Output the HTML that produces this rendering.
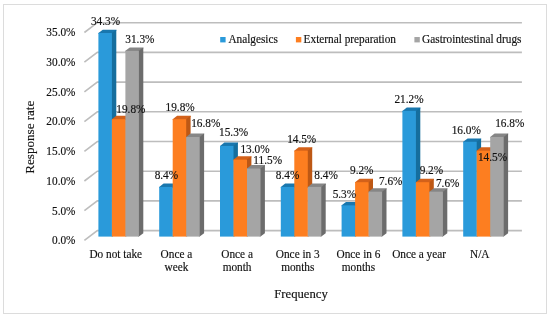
<!DOCTYPE html><html><head><meta charset="utf-8"><title>Response rate by frequency</title><style>html,body{margin:0;padding:0;background:#fff;width:550px;height:318px;overflow:hidden}svg{display:block;will-change:transform;filter:blur(0.3px)}text{font-family:"Liberation Serif",serif;fill:#111;stroke:#111;stroke-width:0.15px}</style></head><body>
<svg width="550" height="318" viewBox="0 0 550 318">
<rect x="0" y="0" width="550" height="318" fill="#fff"/>
<rect x="3.5" y="4.5" width="543" height="309" fill="none" stroke="#DCDCDC" stroke-width="1"/>
<polyline points="84.4,240.40 97.3,230.60 521.9,230.60" fill="none" stroke="#BDBDBD" stroke-width="1.6"/>
<polyline points="84.4,210.70 97.3,200.90 521.9,200.90" fill="none" stroke="#BDBDBD" stroke-width="1.6"/>
<polyline points="84.4,181.00 97.3,171.20 521.9,171.20" fill="none" stroke="#BDBDBD" stroke-width="1.6"/>
<polyline points="84.4,151.30 97.3,141.50 521.9,141.50" fill="none" stroke="#BDBDBD" stroke-width="1.6"/>
<polyline points="84.4,121.60 97.3,111.80 521.9,111.80" fill="none" stroke="#BDBDBD" stroke-width="1.6"/>
<polyline points="84.4,91.90 97.3,82.10 521.9,82.10" fill="none" stroke="#BDBDBD" stroke-width="1.6"/>
<polyline points="84.4,62.20 97.3,52.40 521.9,52.40" fill="none" stroke="#BDBDBD" stroke-width="1.6"/>
<polyline points="84.4,32.50 97.3,22.70 521.9,22.70" fill="none" stroke="#BDBDBD" stroke-width="1.6"/>
<text transform="translate(75.50,244.20) scale(1,1.06)" font-size="11.3" text-anchor="end">0.0%</text>
<text transform="translate(75.50,214.50) scale(1,1.06)" font-size="11.3" text-anchor="end">5.0%</text>
<text transform="translate(75.50,184.80) scale(1,1.06)" font-size="11.3" text-anchor="end">10.0%</text>
<text transform="translate(75.50,155.10) scale(1,1.06)" font-size="11.3" text-anchor="end">15.0%</text>
<text transform="translate(75.50,125.40) scale(1,1.06)" font-size="11.3" text-anchor="end">20.0%</text>
<text transform="translate(75.50,95.70) scale(1,1.06)" font-size="11.3" text-anchor="end">25.0%</text>
<text transform="translate(75.50,66.00) scale(1,1.06)" font-size="11.3" text-anchor="end">30.0%</text>
<text transform="translate(75.50,36.30) scale(1,1.06)" font-size="11.3" text-anchor="end">35.0%</text>
<polygon points="98.40,33.84 98.40,33.04 102.80,29.64 116.30,29.64 116.30,30.64 112.70,33.84" fill="#1977AE"/>
<polygon points="111.10,33.04 111.90,33.04 116.30,29.64 116.30,120.20 111.10,120.20" fill="#156E9E"/>
<rect x="98.40" y="33.04" width="13.5" height="203.56" fill="#2A9ADA"/>
<rect x="111.60" y="119.80" width="1.3" height="116.80" fill="#2A9ADA"/>
<polygon points="111.90,120.00 111.90,119.20 116.30,115.80 129.80,115.80 129.80,116.80 126.20,120.00" fill="#D3611A"/>
<polygon points="124.60,119.20 125.40,119.20 129.80,115.80 129.80,120.20 124.60,120.20" fill="#BD5815"/>
<rect x="111.90" y="119.20" width="13.5" height="117.40" fill="#FD7E20"/>
<rect x="125.10" y="119.80" width="1.3" height="116.80" fill="#FD7E20"/>
<polygon points="125.40,51.67 125.40,50.87 129.80,47.47 143.30,47.47 143.30,48.47 139.70,51.67" fill="#868686"/>
<polygon points="138.10,50.87 138.90,50.87 143.30,47.47 143.30,233.20 138.90,236.60 138.10,236.60" fill="#6C6C6C"/>
<rect x="125.40" y="50.87" width="13.5" height="185.73" fill="#A5A5A5"/>
<polygon points="159.20,187.74 159.20,186.94 163.60,183.54 177.10,183.54 177.10,184.54 173.50,187.74" fill="#1977AE"/>
<polygon points="171.90,186.94 172.70,186.94 177.10,183.54 177.10,187.94 171.90,187.94" fill="#156E9E"/>
<rect x="159.20" y="186.94" width="13.5" height="49.66" fill="#2A9ADA"/>
<rect x="172.40" y="187.54" width="1.3" height="49.06" fill="#2A9ADA"/>
<polygon points="172.70,120.00 172.70,119.20 177.10,115.80 190.60,115.80 190.60,116.80 187.00,120.00" fill="#D3611A"/>
<polygon points="185.40,119.20 186.20,119.20 190.60,115.80 190.60,138.02 185.40,138.02" fill="#BD5815"/>
<rect x="172.70" y="119.20" width="13.5" height="117.40" fill="#FD7E20"/>
<rect x="185.90" y="137.62" width="1.3" height="98.98" fill="#FD7E20"/>
<polygon points="186.20,137.82 186.20,137.02 190.60,133.62 204.10,133.62 204.10,134.62 200.50,137.82" fill="#868686"/>
<polygon points="198.90,137.02 199.70,137.02 204.10,133.62 204.10,233.20 199.70,236.60 198.90,236.60" fill="#6C6C6C"/>
<rect x="186.20" y="137.02" width="13.5" height="99.58" fill="#A5A5A5"/>
<polygon points="220.00,146.74 220.00,145.94 224.40,142.54 237.90,142.54 237.90,143.54 234.30,146.74" fill="#1977AE"/>
<polygon points="232.70,145.94 233.50,145.94 237.90,142.54 237.90,160.60 232.70,160.60" fill="#156E9E"/>
<rect x="220.00" y="145.94" width="13.5" height="90.66" fill="#2A9ADA"/>
<rect x="233.20" y="160.20" width="1.3" height="76.40" fill="#2A9ADA"/>
<polygon points="233.50,160.40 233.50,159.60 237.90,156.20 251.40,156.20 251.40,157.20 247.80,160.40" fill="#D3611A"/>
<polygon points="246.20,159.60 247.00,159.60 251.40,156.20 251.40,169.52 246.20,169.52" fill="#BD5815"/>
<rect x="233.50" y="159.60" width="13.5" height="77.00" fill="#FD7E20"/>
<rect x="246.70" y="169.12" width="1.3" height="67.48" fill="#FD7E20"/>
<polygon points="247.00,169.32 247.00,168.52 251.40,165.12 264.90,165.12 264.90,166.12 261.30,169.32" fill="#868686"/>
<polygon points="259.70,168.52 260.50,168.52 264.90,165.12 264.90,233.20 260.50,236.60 259.70,236.60" fill="#6C6C6C"/>
<rect x="247.00" y="168.52" width="13.5" height="68.08" fill="#A5A5A5"/>
<polygon points="280.80,187.74 280.80,186.94 285.20,183.54 298.70,183.54 298.70,184.54 295.10,187.74" fill="#1977AE"/>
<polygon points="293.50,186.94 294.30,186.94 298.70,183.54 298.70,187.94 293.50,187.94" fill="#156E9E"/>
<rect x="280.80" y="186.94" width="13.5" height="49.66" fill="#2A9ADA"/>
<rect x="294.00" y="187.54" width="1.3" height="49.06" fill="#2A9ADA"/>
<polygon points="294.30,151.49 294.30,150.69 298.70,147.29 312.20,147.29 312.20,148.29 308.60,151.49" fill="#D3611A"/>
<polygon points="307.00,150.69 307.80,150.69 312.20,147.29 312.20,187.94 307.00,187.94" fill="#BD5815"/>
<rect x="294.30" y="150.69" width="13.5" height="85.91" fill="#FD7E20"/>
<rect x="307.50" y="187.54" width="1.3" height="49.06" fill="#FD7E20"/>
<polygon points="307.80,187.74 307.80,186.94 312.20,183.54 325.70,183.54 325.70,184.54 322.10,187.74" fill="#868686"/>
<polygon points="320.50,186.94 321.30,186.94 325.70,183.54 325.70,233.20 321.30,236.60 320.50,236.60" fill="#6C6C6C"/>
<rect x="307.80" y="186.94" width="13.5" height="49.66" fill="#A5A5A5"/>
<polygon points="341.60,206.16 341.60,205.36 346.00,201.96 359.50,201.96 359.50,202.96 355.90,206.16" fill="#1977AE"/>
<polygon points="354.30,205.36 355.10,205.36 359.50,201.96 359.50,206.36 354.30,206.36" fill="#156E9E"/>
<rect x="341.60" y="205.36" width="13.5" height="31.24" fill="#2A9ADA"/>
<rect x="354.80" y="205.96" width="1.3" height="30.64" fill="#2A9ADA"/>
<polygon points="355.10,182.98 355.10,182.18 359.50,178.78 373.00,178.78 373.00,179.78 369.40,182.98" fill="#D3611A"/>
<polygon points="367.80,182.18 368.60,182.18 373.00,178.78 373.00,192.69 367.80,192.69" fill="#BD5815"/>
<rect x="355.10" y="182.18" width="13.5" height="54.42" fill="#FD7E20"/>
<rect x="368.30" y="192.29" width="1.3" height="44.31" fill="#FD7E20"/>
<polygon points="368.60,192.49 368.60,191.69 373.00,188.29 386.50,188.29 386.50,189.29 382.90,192.49" fill="#868686"/>
<polygon points="381.30,191.69 382.10,191.69 386.50,188.29 386.50,233.20 382.10,236.60 381.30,236.60" fill="#6C6C6C"/>
<rect x="368.60" y="191.69" width="13.5" height="44.91" fill="#A5A5A5"/>
<polygon points="402.40,111.68 402.40,110.88 406.80,107.48 420.30,107.48 420.30,108.48 416.70,111.68" fill="#1977AE"/>
<polygon points="415.10,110.88 415.90,110.88 420.30,107.48 420.30,183.18 415.10,183.18" fill="#156E9E"/>
<rect x="402.40" y="110.88" width="13.5" height="125.72" fill="#2A9ADA"/>
<rect x="415.60" y="182.78" width="1.3" height="53.82" fill="#2A9ADA"/>
<polygon points="415.90,182.98 415.90,182.18 420.30,178.78 433.80,178.78 433.80,179.78 430.20,182.98" fill="#D3611A"/>
<polygon points="428.60,182.18 429.40,182.18 433.80,178.78 433.80,192.69 428.60,192.69" fill="#BD5815"/>
<rect x="415.90" y="182.18" width="13.5" height="54.42" fill="#FD7E20"/>
<rect x="429.10" y="192.29" width="1.3" height="44.31" fill="#FD7E20"/>
<polygon points="429.40,192.49 429.40,191.69 433.80,188.29 447.30,188.29 447.30,189.29 443.70,192.49" fill="#868686"/>
<polygon points="442.10,191.69 442.90,191.69 447.30,188.29 447.30,233.20 442.90,236.60 442.10,236.60" fill="#6C6C6C"/>
<rect x="429.40" y="191.69" width="13.5" height="44.91" fill="#A5A5A5"/>
<polygon points="463.20,142.58 463.20,141.78 467.60,138.38 481.10,138.38 481.10,139.38 477.50,142.58" fill="#1977AE"/>
<polygon points="475.90,141.78 476.70,141.78 481.10,138.38 481.10,151.69 475.90,151.69" fill="#156E9E"/>
<rect x="463.20" y="141.78" width="13.5" height="94.82" fill="#2A9ADA"/>
<rect x="476.40" y="151.29" width="1.3" height="85.31" fill="#2A9ADA"/>
<polygon points="476.70,151.49 476.70,150.69 481.10,147.29 494.60,147.29 494.60,148.29 491.00,151.49" fill="#D3611A"/>
<polygon points="489.40,150.69 490.20,150.69 494.60,147.29 494.60,151.69 489.40,151.69" fill="#BD5815"/>
<rect x="476.70" y="150.69" width="13.5" height="85.91" fill="#FD7E20"/>
<rect x="489.90" y="151.29" width="1.3" height="85.31" fill="#FD7E20"/>
<polygon points="490.20,137.82 490.20,137.02 494.60,133.62 508.10,133.62 508.10,134.62 504.50,137.82" fill="#868686"/>
<polygon points="502.90,137.02 503.70,137.02 508.10,133.62 508.10,233.20 503.70,236.60 502.90,236.60" fill="#6C6C6C"/>
<rect x="490.20" y="137.02" width="13.5" height="99.58" fill="#A5A5A5"/>
<text transform="translate(105.50,25.00) scale(1,1.06)" font-size="11.3" text-anchor="middle">34.3%</text>
<text transform="translate(130.90,112.60) scale(1,1.06)" font-size="11.3" text-anchor="middle">19.8%</text>
<text transform="translate(139.90,42.70) scale(1,1.06)" font-size="11.3" text-anchor="middle">31.3%</text>
<text transform="translate(166.40,178.70) scale(1,1.06)" font-size="11.3" text-anchor="middle">8.4%</text>
<text transform="translate(180.10,111.10) scale(1,1.06)" font-size="11.3" text-anchor="middle">19.8%</text>
<text transform="translate(205.80,127.10) scale(1,1.06)" font-size="11.3" text-anchor="middle">16.8%</text>
<text transform="translate(233.60,136.40) scale(1,1.06)" font-size="11.3" text-anchor="middle">15.3%</text>
<text transform="translate(255.00,152.70) scale(1,1.06)" font-size="11.3" text-anchor="middle">13.0%</text>
<text transform="translate(267.70,164.20) scale(1,1.06)" font-size="11.3" text-anchor="middle">11.5%</text>
<text transform="translate(287.60,178.60) scale(1,1.06)" font-size="11.3" text-anchor="middle">8.4%</text>
<text transform="translate(301.70,142.60) scale(1,1.06)" font-size="11.3" text-anchor="middle">14.5%</text>
<text transform="translate(326.10,178.60) scale(1,1.06)" font-size="11.3" text-anchor="middle">8.4%</text>
<text transform="translate(344.40,198.40) scale(1,1.06)" font-size="11.3" text-anchor="middle">5.3%</text>
<text transform="translate(361.75,174.10) scale(1,1.06)" font-size="11.3" text-anchor="middle">9.2%</text>
<text transform="translate(390.70,185.00) scale(1,1.06)" font-size="11.3" text-anchor="middle">7.6%</text>
<text transform="translate(409.00,103.20) scale(1,1.06)" font-size="11.3" text-anchor="middle">21.2%</text>
<text transform="translate(431.40,173.80) scale(1,1.06)" font-size="11.3" text-anchor="middle">9.2%</text>
<text transform="translate(447.70,187.40) scale(1,1.06)" font-size="11.3" text-anchor="middle">7.6%</text>
<text transform="translate(466.30,133.60) scale(1,1.06)" font-size="11.3" text-anchor="middle">16.0%</text>
<text transform="translate(492.50,160.80) scale(1,1.06)" font-size="11.3" text-anchor="middle">14.5%</text>
<text transform="translate(509.75,127.30) scale(1,1.06)" font-size="11.3" text-anchor="middle">16.8%</text>
<text transform="translate(115.75,257.50) scale(1,1.06)" font-size="11.3" text-anchor="middle">Do not take</text>
<text transform="translate(176.42,257.50) scale(1,1.06)" font-size="11.3" text-anchor="middle">Once a</text>
<text transform="translate(176.42,271.20) scale(1,1.06)" font-size="11.3" text-anchor="middle">week</text>
<text transform="translate(237.09,257.50) scale(1,1.06)" font-size="11.3" text-anchor="middle">Once a</text>
<text transform="translate(237.09,271.20) scale(1,1.06)" font-size="11.3" text-anchor="middle">month</text>
<text transform="translate(297.76,257.50) scale(1,1.06)" font-size="11.3" text-anchor="middle">Once in 3</text>
<text transform="translate(297.76,271.20) scale(1,1.06)" font-size="11.3" text-anchor="middle">months</text>
<text transform="translate(358.43,257.50) scale(1,1.06)" font-size="11.3" text-anchor="middle">Once in 6</text>
<text transform="translate(358.43,271.20) scale(1,1.06)" font-size="11.3" text-anchor="middle">months</text>
<text transform="translate(419.10,257.50) scale(1,1.06)" font-size="11.3" text-anchor="middle">Once a year</text>
<text transform="translate(479.77,257.50) scale(1,1.06)" font-size="11.3" text-anchor="middle">N/A</text>
<text transform="translate(301.00,298.30) scale(1,1.06)" font-size="12.7" text-anchor="middle">Frequency</text>
<text transform="translate(33.90,137.20) rotate(-90) scale(1.03,0.94)" font-size="12.7" text-anchor="middle">Response rate</text>
<rect x="220.2" y="37" width="5.4" height="5.4" fill="#2A9ADA"/>
<text transform="translate(228.40,42.50) scale(1,1.06)" font-size="11.3">Analgesics</text>
<rect x="295.9" y="37" width="5.4" height="5.4" fill="#FD7E20"/>
<text transform="translate(303.60,42.50) scale(1,1.06)" font-size="11.3">External preparation</text>
<rect x="414.4" y="37" width="5.4" height="5.4" fill="#A5A5A5"/>
<text transform="translate(422.10,42.50) scale(1,1.06)" font-size="11.3">Gastrointestinal drugs</text>
</svg></body></html>
